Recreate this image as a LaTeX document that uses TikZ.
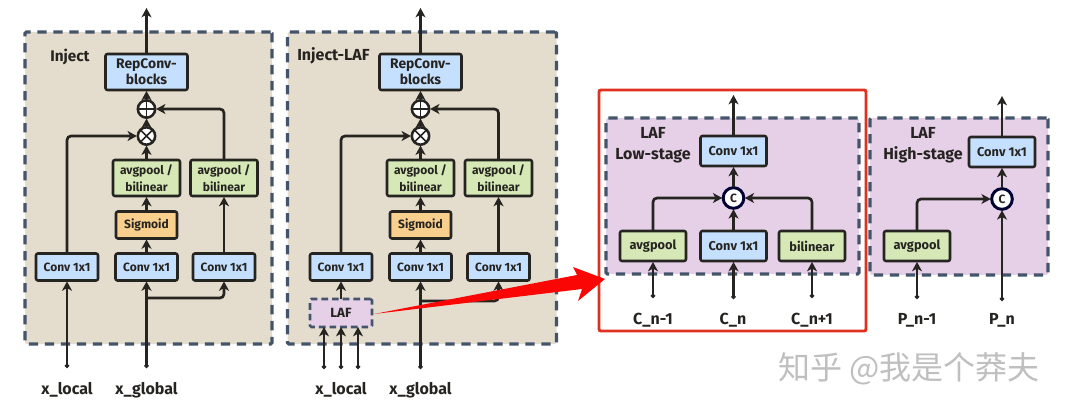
\documentclass[tikz,border=0pt]{standalone}
\usepackage{fontspec}
\setmainfont{Fira Sans}
\newfontfamily\cjkwm{Noto Sans CJK SC}
\usetikzlibrary{arrows.meta}
\definecolor{ink}{HTML}{262421}
\definecolor{dashc}{HTML}{44546A}
\definecolor{tanf}{HTML}{E4DCCD}
\definecolor{lav}{HTML}{E6D0E8}
\definecolor{bluef}{HTML}{C5E0FF}
\definecolor{greenf}{HTML}{D5E8B5}
\definecolor{orangef}{HTML}{F9CF8E}
\definecolor{redc}{HTML}{E0301E}
\tikzset{
 sz/.style 2 args={minimum width=#1*0.75pt,minimum height=#2*0.75pt},
 panel/.style={fill=#1,draw=dashc,line width=2.4pt,dash pattern=on 7pt off 5pt,rounded corners=1pt,inner sep=0,outer sep=0},
 box/.style={draw=ink,line width=1.9pt,rounded corners=1.5pt,inner sep=0,outer sep=0.7pt,align=center,text=ink,font=\bfseries\fontsize{9}{12.5}\selectfont},
 conv/.style={box,fill=bluef,sz={62}{27}},
 pool/.style={box,fill=greenf,sz={67}{36}},
 rep/.style={box,fill=bluef,sz={82}{36},font=\bfseries\fontsize{10.4}{12}\selectfont},
 sig/.style={box,fill=orangef,sz={61}{27}},
 lafc/.style={box,fill=bluef,sz={66}{30},font=\bfseries\fontsize{9.6}{11.5}\selectfont},
 lafg/.style={box,fill=greenf,sz={66}{30},font=\bfseries\fontsize{9.6}{11.5}\selectfont},
 op/.style={circle,draw=ink,fill=white,line width=1.9pt,minimum size=13pt,inner sep=0,outer sep=0.7pt},
 cc/.style={circle,draw=black!80!blue,fill=white,line width=2.2pt,minimum size=15.5pt,inner sep=0,outer sep=0.7pt,text=ink,font=\bfseries\fontsize{9}{9}\selectfont},
 lab/.style={text=ink,inner sep=0,font=\bfseries\fontsize{12}{15.5}\selectfont,align=center},
 wire/.style={draw=ink,line width=2pt,rounded corners=3pt,-{Stealth[length=7pt,width=7.5pt,inset=2pt]}},
 feed/.style={wire,{Circle[length=3.2pt]}-{Stealth[length=7pt,width=7.5pt,inset=2pt]}},
 opmark/.style={draw=ink,line width=1.3pt},
}
\begin{document}
\begin{tikzpicture}[x=0.75pt,y=-0.75pt]
\useasboundingbox (0,0) rectangle (1067,413);
% panels
\node[panel=tanf,sz={247}{312}] (p1) at (148.5,188) {};
\node[panel=tanf,sz={269}{312}] (p2) at (422,188) {};
\node[panel=lav,sz={253}{156}] (p3) at (732.5,196) {};
\node[panel=lav,sz={178}{157}] (p4) at (959,196.5) {};
\node[draw=redc,line width=2.2pt,rounded corners=1.5pt,sz={267}{241},inner sep=0] (hl) at (732.5,210.5) {};
% panel 1
\node[lab,anchor=west,font=\bfseries\fontsize{11.5}{14}\selectfont] (t1) at (50,56.5) {Inject};
\node[rep] (r1) at (146.5,72) {RepConv-\\blocks};
\node[op] (a1) at (146.5,109) {};
\node[op] (m1) at (146.5,136) {};
\node[pool] (g1) at (146.5,178) {avgpool /\\bilinear};
\node[pool] (h1) at (224,178) {avgpool /\\bilinear};
\node[sig] (s1) at (146.5,225) {Sigmoid};
\node[conv] (c1) at (67,267) {Conv 1x1};
\node[conv] (d1) at (146.5,267) {Conv 1x1};
\node[conv] (e1) at (224,267) {Conv 1x1};
\node[lab] (xl1) at (67,390) {x\_local};
\node[lab] (xg1) at (146.5,390) {x\_global};
\coordinate (o1) at (146.5,8);
\coordinate (i1) at (67,368);
\coordinate (j1) at (146.5,368);
\coordinate (b1) at (146.5,298);
\draw[wire] (r1.north) -- (o1);
\draw[wire] (a1.north) -- (r1.south);
\draw[wire] (m1.north) -- (a1.south);
\draw[wire] (g1.north) -- (m1.south);
\draw[wire] (s1.north) -- (g1.south);
\draw[wire] (d1.north) -- (s1.south);
\draw[wire] (e1.north) -- (h1.south);
\draw[wire] (h1.north) |- (a1.east);
\draw[wire] (c1.north) |- (m1.west);
\draw[feed] (i1) -- (c1.south);
\draw[feed] (j1) -- (d1.south);
\draw[wire] (b1) -| (e1.south);
% panel 2
\node[lab,anchor=west] (t2) at (297,55.5) {Inject-LAF};
\node[rep] (r2) at (420.5,72) {RepConv-\\blocks};
\node[op] (a2) at (420.5,109) {};
\node[op] (m2) at (420.5,136) {};
\node[pool] (g2) at (420.5,178) {avgpool /\\bilinear};
\node[pool] (h2) at (498.5,178) {avgpool /\\bilinear};
\node[sig] (s2) at (420.5,225) {Sigmoid};
\node[conv] (c2) at (341,267) {Conv 1x1};
\node[conv] (d2) at (420.5,267) {Conv 1x1};
\node[conv] (e2) at (498.5,267) {Conv 1x1};
\node[panel=lav,line width=1.9pt,dash pattern=on 5pt off 3pt,sz={62}{28},text=ink,font=\bfseries\fontsize{10}{11}\selectfont] (l2) at (341,313) {LAF};
\node[lab] (xl2) at (341,390) {x\_local};
\node[lab] (xg2) at (420.5,390) {x\_global};
\coordinate (o2) at (420.5,8);
\coordinate (i2a) at (324,369);
\coordinate (i2b) at (341,369);
\coordinate (i2c) at (358,369);
\coordinate (j2) at (420.5,369);
\coordinate (b2) at (420.5,301);
\coordinate (l2a) at (324,327);
\coordinate (l2c) at (358,327);
\draw[wire] (r2.north) -- (o2);
\draw[wire] (a2.north) -- (r2.south);
\draw[wire] (m2.north) -- (a2.south);
\draw[wire] (g2.north) -- (m2.south);
\draw[wire] (s2.north) -- (g2.south);
\draw[wire] (d2.north) -- (s2.south);
\draw[wire] (e2.north) -- (h2.south);
\draw[wire] (h2.north) |- (a2.east);
\draw[wire] (c2.north) |- (m2.west);
\draw[wire] (l2.north) -- (c2.south);
\draw[feed] (i2a) -- (l2a);
\draw[feed] (i2b) -- (l2.south);
\draw[feed] (i2c) -- (l2c);
\draw[feed] (j2) -- (d2.south);
\draw[wire] (b2) -| (e2.south);
% low
\node[lab] (t3) at (653,145) {LAF\\Low-stage};
\node[lafc] (k3) at (733.5,151) {Conv 1x1};
\node[cc] (cc3) at (733.5,198) {C};
\node[lafg] (v3) at (653,246) {avgpool};
\node[lafc] (n3) at (733.5,246) {Conv 1x1};
\node[lafg] (w3) at (812,246) {bilinear};
\node[lab] (q3a) at (653,320) {C\_n-1};
\node[lab] (q3b) at (733,320) {C\_n};
\node[lab] (q3c) at (812,320) {C\_n+1};
\coordinate (o3) at (733.5,95);
\coordinate (f3a) at (653,298);
\coordinate (f3b) at (733.5,299);
\coordinate (f3c) at (812,298);
\draw[wire] (k3.north) -- (o3);
\draw[wire] (cc3.north) -- (k3.south);
\draw[wire] (n3.north) -- (cc3.south);
\draw[wire] (v3.north) |- (cc3.west);
\draw[wire] (w3.north) |- (cc3.east);
\draw[feed] (f3a) -- (v3.south);
\draw[feed] (f3b) -- (n3.south);
\draw[feed] (f3c) -- (w3.south);
% high
\node[lab] (t4) at (923,145) {LAF\\High-stage};
\node[lafc] (k4) at (1002,152) {Conv 1x1};
\node[cc] (cc4) at (1002,199) {C};
\node[lafg] (v4) at (917,246) {avgpool};
\node[lab] (q4a) at (917,320) {P\_n-1};
\node[lab] (q4b) at (1002,320) {P\_n};
\coordinate (o4) at (1002,96);
\coordinate (f4a) at (917,299);
\coordinate (f4b) at (1002,301);
\draw[wire] (k4.north) -- (o4);
\draw[wire] (cc4.north) -- (k4.south);
\draw[wire] (v4.north) |- (cc4.west);
\draw[feed] (f4a) -- (v4.south);
\draw[feed] (f4b) -- (cc4.south);
% op marks
\draw[opmark] (a1.north) -- (a1.south) (a1.west) -- (a1.east);
\draw[opmark] (m1.north west) -- (m1.south east) (m1.north east) -- (m1.south west);
\draw[opmark] (a2.north) -- (a2.south) (a2.west) -- (a2.east);
\draw[opmark] (m2.north west) -- (m2.south east) (m2.north east) -- (m2.south west);
% red arrow
\coordinate (ra) at (374,314);
\coordinate (rb) at (605,279);
\fill[red!85!redc] (ra) -- (577,275) -- (573,267) -- (rb) -- (578,301) -- (582,289) -- cycle;
% watermark
\node[inner sep=0,anchor=west,text=black!25,font=\cjkwm\fontsize{24}{24}\selectfont] (wm) at (778,369) {知乎 @我是个莽夫};
\end{tikzpicture}
\end{document}
